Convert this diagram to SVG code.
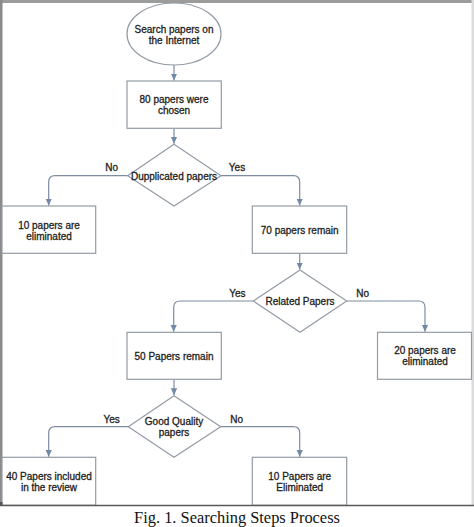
<svg xmlns="http://www.w3.org/2000/svg" width="474" height="527" viewBox="0 0 474 527">
<defs>
<style>
.n{fill:#fff;stroke:#939ba6;stroke-width:1.2}
.t{font-family:"Liberation Sans",Arial,sans-serif;font-size:10px;fill:#1e1e1e;stroke:#1e1e1e;stroke-width:0.3;text-anchor:middle}
.c{fill:none;stroke:#7d8ca0;stroke-width:1.2}
</style>
<marker id="a" markerUnits="userSpaceOnUse" markerWidth="8" markerHeight="8" refX="7" refY="4" orient="auto">
<path d="M0,0.8 L7,4 L0,7.2 Z" fill="#7289a6"/>
</marker>
</defs>
<rect width="474" height="527" fill="#fff"/>
<rect x="0" y="0" width="474" height="3" fill="#9c9c9c"/>
<rect x="0" y="0" width="2.5" height="505" fill="#8a8a8a"/>
<rect x="471.5" y="0" width="2.5" height="505" fill="#dcdcdc"/>
<g id="connectors">
<path class="c" d="M174,65 V80.5" marker-end="url(#a)"/>
<path class="c" d="M174,128.3 V143.8" marker-end="url(#a)"/>
<path class="c" d="M127.7,175.7 H55 Q48.7,175.7 48.7,182 V205.5" marker-end="url(#a)"/>
<path class="c" d="M221,175.7 H293.4 Q299.7,175.7 299.7,182 V205.5" marker-end="url(#a)"/>
<path class="c" d="M299.7,253.3 V269.5" marker-end="url(#a)"/>
<path class="c" d="M253.3,301 H180 Q173.7,301 173.7,307.3 V331.8" marker-end="url(#a)"/>
<path class="c" d="M346.7,301 H418.7 Q425,301 425,307.3 V331.8" marker-end="url(#a)"/>
<path class="c" d="M174,379.3 V395.2" marker-end="url(#a)"/>
<path class="c" d="M128.3,426.7 H55 Q48.7,426.7 48.7,433 V456.8" marker-end="url(#a)"/>
<path class="c" d="M220.7,426.7 H293.4 Q299.7,426.7 299.7,433 V456.8" marker-end="url(#a)"/>
</g>
<g id="start">
<ellipse class="n" cx="174" cy="34" rx="47" ry="31"/>
<text class="t" x="174" y="33">Search papers on</text>
<text class="t" x="174" y="44">the Internet</text>
</g>
<g id="chosen80">
<rect class="n" x="127" y="81" width="94.3" height="47.3"/>
<text class="t" x="174" y="103">80 papers were</text>
<text class="t" x="174" y="114">chosen</text>
</g>
<g id="dup">
<path class="n" d="M174,144.3 L221,175.7 L174,206 L127.7,175.7 Z"/>
<text class="t" x="174" y="179.5">Dupplicated papers</text>
</g>
<text class="t" x="111.7" y="171">No</text>
<text class="t" x="237" y="171">Yes</text>
<g id="elim10">
<rect class="n" x="2" y="206" width="93.7" height="47.3"/>
<text class="t" x="49" y="228.5">10 papers are</text>
<text class="t" x="49" y="239.5">eliminated</text>
</g>
<g id="remain70">
<rect class="n" x="252.3" y="206" width="94.4" height="47.3"/>
<text class="t" x="299.7" y="234">70 papers remain</text>
</g>
<g id="related">
<path class="n" d="M300,270 L346.7,301 L300,332.3 L253.3,301 Z"/>
<text class="t" x="300" y="304.5">Related Papers</text>
</g>
<text class="t" x="237.3" y="297">Yes</text>
<text class="t" x="362.7" y="297">No</text>
<g id="remain50">
<rect class="n" x="127" y="332.3" width="94.3" height="47"/>
<text class="t" x="174" y="359.5">50 Papers remain</text>
</g>
<g id="elim20">
<rect class="n" x="377.5" y="332.3" width="94" height="47"/>
<text class="t" x="425" y="354">20 papers are</text>
<text class="t" x="425" y="365">eliminated</text>
</g>
<g id="quality">
<path class="n" d="M174,395.7 L220.7,426.7 L174,457.3 L128.3,426.7 Z"/>
<text class="t" x="174" y="424.5">Good Quality</text>
<text class="t" x="174" y="435.5">papers</text>
</g>
<text class="t" x="111.7" y="422.5">Yes</text>
<text class="t" x="236.7" y="422.5">No</text>
<g id="included40">
<rect class="n" x="2" y="457.3" width="93.7" height="48"/>
<text class="t" x="49" y="479.5">40 Papers included</text>
<text class="t" x="49" y="490.5">in the review</text>
</g>
<g id="elim10b">
<rect class="n" x="252.3" y="457.3" width="94.4" height="48"/>
<text class="t" x="299.7" y="479.5">10 Papers are</text>
<text class="t" x="299.7" y="490.5">Eliminated</text>
</g>
<rect x="0" y="502" width="2.5" height="4" fill="#555"/>
<line x1="0" y1="505.6" x2="474" y2="505.6" stroke="#5a5a5a" stroke-width="1.5"/>
<text x="237" y="522.5" font-family="'Liberation Serif','Times New Roman',serif" font-size="16.4" fill="#111" text-anchor="middle">Fig. 1. Searching Steps Process</text>
</svg>
